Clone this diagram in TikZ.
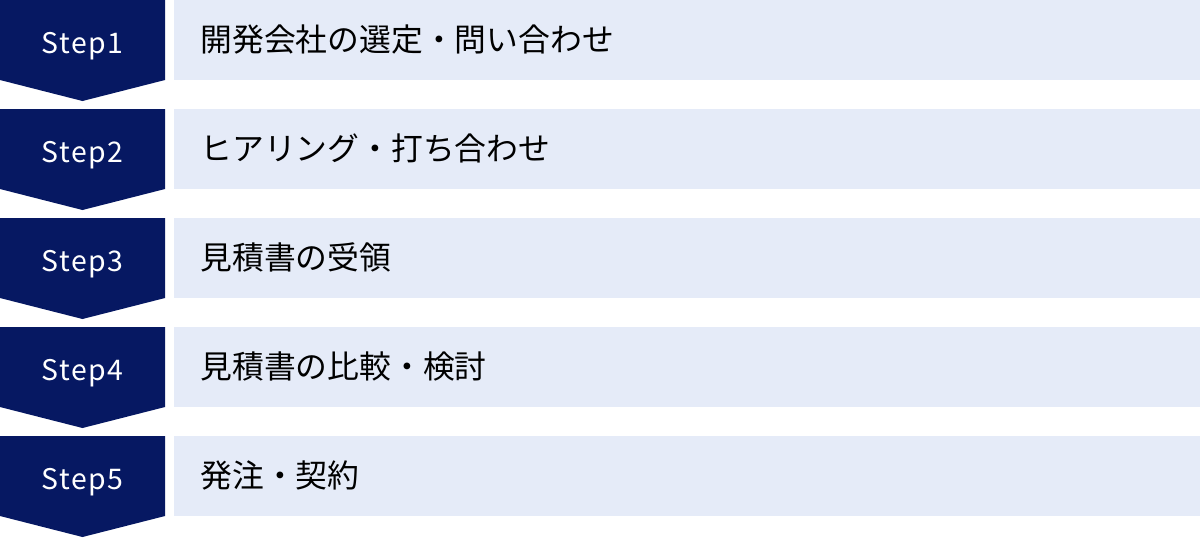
\documentclass[tikz,border=0pt]{standalone}
\usepackage{fontspec}
\setmainfont{Noto Sans CJK JP}
\definecolor{stepnavy}{HTML}{061862}
\definecolor{barblue}{HTML}{E5EBF8}
\tikzset{
  stepflag/.style={fill=stepnavy},
  stepbar/.style={fill=barblue},
  steplabel/.style={anchor=base, text=white, inner sep=0pt,
    font=\fontsize{14.2}{16}\selectfont\addfontfeatures{LetterSpace=6}},
  bartext/.style={anchor=base west, text=black, inner sep=0pt,
    font=\fontsize{15.9}{18}\selectfont},
}

\begin{document}
\begin{tikzpicture}[x=0.5pt,y=-0.5pt]
\useasboundingbox (0,0) rectangle (1200,538);

% Step1
\fill[stepflag] (0,0) -- (165,0) -- (165,80) -- (82.5,101) -- (0,80) -- cycle;
\fill[stepbar] (174,0) rectangle (1200,80);
\node[steplabel] (step1) at (82.5,53) {Step1};
\node[bartext] (text1) at (200,51) {開発会社の選定・問い合わせ};

% Step2
\fill[stepflag] (0,109) -- (165,109) -- (165,189) -- (82.5,210) -- (0,189) -- cycle;
\fill[stepbar] (174,109) rectangle (1200,189);
\node[steplabel] (step2) at (82.5,162) {Step2};
\node[bartext] (text2) at (200,160) {ヒアリング・打ち合わせ};

% Step3
\fill[stepflag] (0,218) -- (165,218) -- (165,298) -- (82.5,319) -- (0,298) -- cycle;
\fill[stepbar] (174,218) rectangle (1200,298);
\node[steplabel] (step3) at (82.5,271) {Step3};
\node[bartext] (text3) at (200,269) {見積書の受領};

% Step4
\fill[stepflag] (0,327) -- (165,327) -- (165,407) -- (82.5,428) -- (0,407) -- cycle;
\fill[stepbar] (174,327) rectangle (1200,407);
\node[steplabel] (step4) at (82.5,380) {Step4};
\node[bartext] (text4) at (200,378) {見積書の比較・検討};

% Step5
\fill[stepflag] (0,436) -- (165,436) -- (165,516) -- (82.5,537) -- (0,516) -- cycle;
\fill[stepbar] (174,436) rectangle (1200,516);
\node[steplabel] (step5) at (82.5,489) {Step5};
\node[bartext] (text5) at (200,487) {発注・契約};

\end{tikzpicture}
\end{document}
